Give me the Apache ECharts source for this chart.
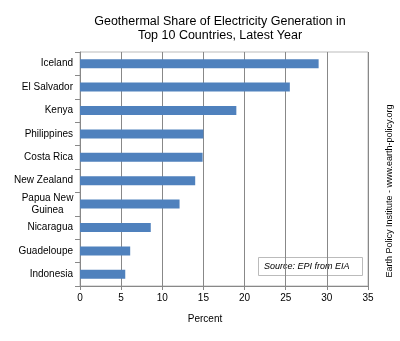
<!DOCTYPE html>
<html><head><meta charset="utf-8">
<script src="https://cdn.jsdelivr.net/npm/echarts@6/dist/echarts.min.js"></script>
<style>html,body{margin:0;padding:0;background:#fff}#c{width:400px;height:341px}</style>
</head><body><div id="c"></div>
<script>
const categories = ["Iceland","El Salvador","Kenya","Philippines","Costa Rica","New Zealand","Papua New\nGuinea","Nicaragua","Guadeloupe","Indonesia"];
const values = [29.0, 25.5, 19.0, 15.0, 14.9, 14.0, 12.1, 8.6, 6.1, 5.5];
const xTicks = [0,5,10,15,20,25,30,35];
const titleText = "Geothermal Share of Electricity Generation in\nTop 10 Countries, Latest Year";
const xName = "Percent";
const sourceText = "Source: EPI from EIA";
const creditText = "Earth Policy Institute - www.earth-policy.org";

const chart = echarts.init(document.getElementById('c'));
const font = '"Liberation Sans", Arial, sans-serif';
chart.setOption({
  animation:false,
  textStyle:{fontFamily:font},
  title:{text:titleText,left:215,textAlign:'center',top:10,
    textStyle:{fontFamily:font,fontSize:12.5,fontWeight:'normal',color:'#000',lineHeight:14}},
  grid:{left:80,right:32,top:52,bottom:55,show:true,borderColor:'#bbb',borderWidth:1},
  xAxis:{type:'value',min:xTicks[0],max:xTicks[xTicks.length-1],interval:5,
    name:xName,nameLocation:'middle',nameGap:28,
    nameTextStyle:{fontFamily:font,fontSize:10,color:'#000',padding:[0,38,0,0]},
    axisLine:{show:true,lineStyle:{color:'#888'}},
    axisTick:{show:true,length:4,lineStyle:{color:'#888'}},
    axisLabel:{fontFamily:font,fontSize:10,color:'#000',margin:7},
    splitLine:{show:true,lineStyle:{color:'#888',width:1}}},
  yAxis:{type:'category',data:categories,inverse:true,
    axisLine:{show:true,lineStyle:{color:'#888'}},
    axisTick:{show:true,alignWithLabel:false,length:5,lineStyle:{color:'#888'}},
    axisLabel:{fontFamily:font,fontSize:10,color:'#000',margin:7,lineHeight:12,align:'right',
      formatter:v=>v.indexOf('\n')>=0 ? v.split('\n').map(s=>'{c|'+s+'}').join('\n') : v,
      rich:{c:{width:51,align:'center',fontFamily:font,fontSize:10,color:'#000',lineHeight:12}}},
    splitLine:{show:false}},
  series:[{type:'bar',data:values,barWidth:9,itemStyle:{color:'#4f81bd'}}],
  graphic:[
    {type:'rect',shape:{x:258.5,y:257.5,width:104,height:18},style:{fill:'#fff',stroke:'#bbb',lineWidth:1}},
    {type:'text',x:264,y:266.5,style:{text:sourceText,font:'italic 9px '+font,fill:'#000',textVerticalAlign:'middle'}},
    {type:'text',x:390,y:191,rotation:Math.PI/2,style:{text:creditText,font:'9px '+font,fill:'#000',textAlign:'center',textVerticalAlign:'middle'}}
  ]
});
</script></body></html>
